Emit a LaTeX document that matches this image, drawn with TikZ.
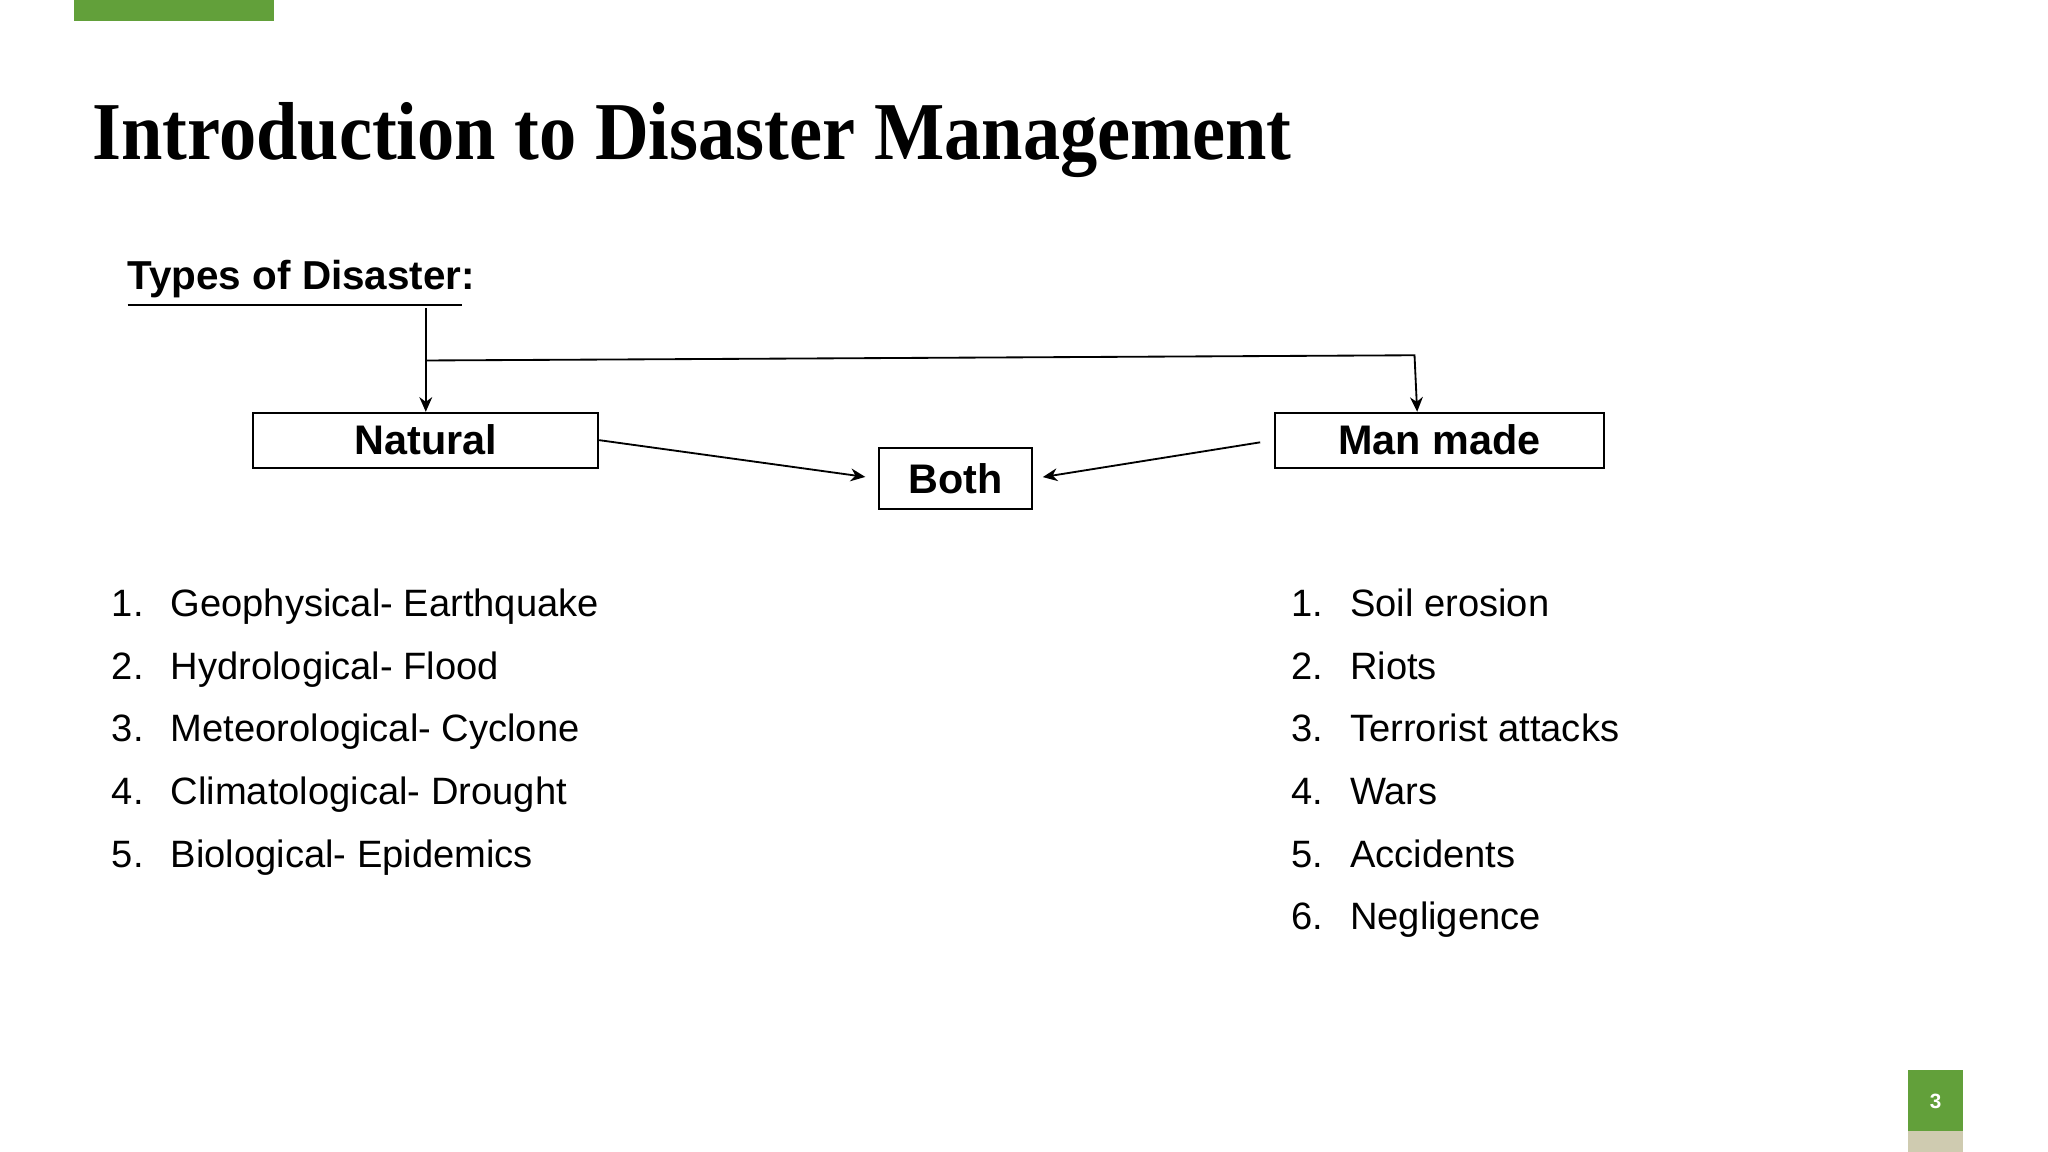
\documentclass[tikz,border=0pt]{standalone}
\usepackage{fontspec}
\setmainfont{Liberation Sans}
\newfontfamily\titlefont{Liberation Serif}
\usetikzlibrary{arrows.meta,positioning}
\definecolor{slidegreen}{HTML}{62A03A}
\definecolor{slidebeige}{HTML}{CFCBB0}
\begin{document}
\begin{tikzpicture}[x=0.01cm,y=-0.01cm,
  kind/.style={draw,thin,minimum height=0.42cm,inner sep=0pt,
               font=\fontsize{9}{11}\selectfont\bfseries},
  item/.style={anchor=base west,inner sep=0pt,font=\fontsize{8.3}{10}\selectfont},
  link/.style={-{Stealth[length=3.2pt,width=2.8pt]},thin}]
  \useasboundingbox (0,0) rectangle (1568,882);

  % slide decorations
  \fill[slidegreen] (57,0) rectangle (210,16);
  \fill[slidegreen] (1461,819) rectangle (1503,866);
  \fill[slidebeige] (1461,866) rectangle (1503,882);
  \node[text=white,font=\fontsize{4.5}{5}\selectfont\bfseries] (page) at (1482,843) {3};

  \node[anchor=base west,inner sep=0pt,font=\titlefont\fontsize{17.9}{20}\selectfont\bfseries]
    (title) at (70,122) {\scalebox{0.905}[1]{Introduction to Disaster Management}};
  \node[anchor=base west,inner sep=0pt,font=\fontsize{8.8}{10}\selectfont\bfseries]
    (types) at (97,222) {\underline{Types of Disaster}:};

  % boxes
  \node[kind,minimum width=2.64cm] (natural) at (326,337) {Natural};
  \node[kind,minimum width=2.52cm] (manmade) at (1102,337) {Man made};
  \node[kind,minimum width=1.17cm,minimum height=0.47cm] (both) at (731.5,366.5) {Both};

  \coordinate (split) at (326,276);
  \coordinate (turn) at (1083,272);
  \draw[link] (types.south -| natural.north) -- (natural.north);
  \draw[link] (split) -- (turn) -- (manmade.north -| 1085,0);
  \draw[link,shorten >=2.8pt] (natural.east) -- (both.west);
  \draw[link,shorten <=3pt,shorten >=2.2pt] (manmade.west) -- (both.east);

  % lists
  \foreach \t [count=\i] in {Geophysical- Earthquake,Hydrological- Flood,
      Meteorological- Cyclone,Climatological- Drought,Biological- Epidemics}
  {
    \node[item] (nn\i) at (85,424+48*\i) {\i.};
    \node[item] (nt\i) at (130,424+48*\i) {\t};
  }
  \foreach \t [count=\i] in {Soil erosion,Riots,Terrorist attacks,Wars,
      Accidents,Negligence}
  {
    \node[item] (mn\i) at (988,424+48*\i) {\i.};
    \node[item] (mt\i) at (1033,424+48*\i) {\t};
  }
\end{tikzpicture}
\end{document}
